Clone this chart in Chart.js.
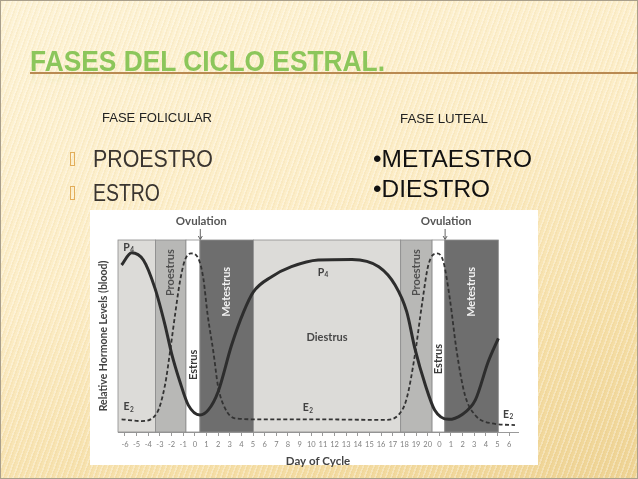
<!DOCTYPE html>
<html><head><meta charset="utf-8">
<script src="https://cdn.jsdelivr.net/npm/chart.js@4.4.1/dist/chart.umd.min.js"></script>
<style>
html,body{margin:0;padding:0;}
body{width:638px;height:479px;overflow:hidden;position:relative;
 background:
  repeating-linear-gradient(110deg, rgba(255,255,255,0.28) 0px, rgba(255,255,255,0.28) 1.5px, rgba(210,170,90,0.07) 1.5px, rgba(210,170,90,0.07) 3px, rgba(255,255,255,0) 3px, rgba(255,255,255,0) 5px),
  linear-gradient(160deg,#fdf3d6 0%,#fcedc7 45%,#f5dea6 78%,#eed394 100%);
 font-family:"Liberation Sans",Arial,sans-serif;}
.frame{position:absolute;left:0;top:0;width:636px;height:477px;border:1px solid #a99f8b;}
.t{position:absolute;white-space:nowrap;line-height:normal;transform-origin:0 0;}
#title{left:30px;top:45px;font-family:"Liberation Sans",Arial,sans-serif;font-weight:bold;font-size:29px;color:#8cc65b;}
#refl{left:30px;top:67px;font-family:"Liberation Sans",Arial,sans-serif;font-weight:bold;font-size:29px;color:#8cc65b;opacity:0.13;
 -webkit-mask-image:linear-gradient(to top, rgba(0,0,0,1) 0%, rgba(0,0,0,0) 55%);mask-image:linear-gradient(to top, rgba(0,0,0,1) 0%, rgba(0,0,0,0) 55%);}
#rule{position:absolute;left:30px;top:72px;width:608px;height:1.5px;background:#b98a52;}
.sub{font-family:"Liberation Sans",Arial,sans-serif;font-size:13.5px;color:#222;}
.big{font-family:"Liberation Sans",Arial,sans-serif;font-size:23.5px;}
.box{position:absolute;width:3px;height:12px;border:1px solid #e2ad5a;}
#img{position:absolute;left:90px;top:210px;width:448px;height:255px;background:#fff;}
#cv{position:absolute;left:90px;top:210px;}
</style></head>
<body>
<div class="frame"></div>
<div id="refl" class="t" data-w="355" style="transform-origin:0 50%;">FASES DEL CICLO ESTRAL.</div>
<div id="title" class="t" data-w="355">FASES DEL CICLO ESTRAL.</div>
<div id="rule"></div>
<div class="t sub" style="left:102px;top:110px;" data-w="110">FASE FOLICULAR</div>
<div class="t sub" style="left:400px;top:111px;" data-w="88">FASE LUTEAL</div>
<div class="box" style="left:70px;top:152px;"></div>
<div class="box" style="left:70px;top:186px;"></div>
<div class="t big" style="left:93px;top:146px;color:#3a3530;" data-w="120">PROESTRO</div>
<div class="t big" style="left:93px;top:180px;color:#3a3530;" data-w="67">ESTRO</div>
<div class="t big" style="left:373px;top:146px;color:#111;" data-w="159">•METAESTRO</div>
<div class="t big" style="left:373px;top:176px;color:#111;" data-w="117">•DIESTRO</div>
<div id="img"></div>
<canvas id="cv" width="448" height="260"></canvas>
<script>
// ---- data ----
const dayLabels = ['-6','-5','-4','-3','-2','-1','0','1','2','3','4','5','6','7','8','9','10','11','12','13','14','15','16','17','18','19','20','0','1','2','3','4','5','6'];
// positions are measured along the axis in tick-index units (index of dayLabels)
const p4Pos   = [-0.29,0.57,1.58,2.58,3.44,4.0,4.72,5.44,6.44,7.16,8.0,9.16,10.2,11.03,12.6,14.3,16.6,19.5,21.8,23.2,24.2,24.9,25.8,26.6,27.8,28.9,30.1,31.2,32.07];
const p4Level = [87,93.4,89.6,74.8,55.7,41,26.2,14,8.9,11.5,21,45.3,62.7,73,80.9,86.1,89.6,89.9,86.1,76.6,62.7,43.6,24.5,11.5,6.6,8.9,16.7,36.6,48.8];
const e2Pos   = [-0.29,1.43,2.72,3.44,3.87,4.3,4.72,5.15,5.67,6.3,6.73,7.1,7.59,8.0,8.6,9.45,11.5,16,22.3,23.5,24.2,24.9,25.5,26.06,26.8,27.35,27.9,28.5,29.2,30.07,31.5,33.5];
const e2Level = [6.6,5.7,9.7,24.5,41.8,61,78.3,89.6,93,90.4,80,61,41.8,23.6,12.3,7.1,6.6,6.6,6.3,8.9,17.5,40,66,87,93,88.7,69.6,41.8,19.3,8.9,4.5,3.6];
const phaseKind  = ['Diestrus','Proestrus','Estrus','Metestrus','Diestrus','Proestrus','Estrus','Metestrus'];
const phaseStart = [-0.6,2.63,5.24,6.44,11.03,23.68,26.38,27.47];
const phaseEnd   = [2.63,5.24,6.44,11.03,23.68,26.38,27.47,32.07];
const phaseLabelLevel = [null,83,35,73,49,83,38,73];
const ovulationPos = [6.47,27.5];
const hormoneText  = ['P','P','E','E','E'];
const hormoneSub   = ['4','4','2','2','2'];
const hormonePos   = [0.3,17.0,0.3,15.7,32.9];
const hormoneLevel = [96,83,13,12.5,9];

// ---- styles ----
const phaseStyle = {
  Diestrus:{fill:'#dcdbd8',text:'#474747',vertical:false},
  Proestrus:{fill:'#b8b8b6',text:'#505050',vertical:true},
  Estrus:{fill:'#ffffff',text:'#3a3a3a',vertical:true},
  Metestrus:{fill:'#6e6e6e',text:'#f2f2f2',vertical:true}
};
const FONT = 'Lato, "Open Sans", sans-serif';

const phasePlugin = {
  id:'phases',
  beforeDatasetsDraw(chart){
    const {ctx, scales:{x,y}} = chart;
    ctx.save();
    const yTop = y.getPixelForValue(100), yBot = y.getPixelForValue(0);
    phaseStart.forEach((s,i)=>{
      const x0 = x.getPixelForValue(s), x1 = x.getPixelForValue(phaseEnd[i]);
      ctx.fillStyle = phaseStyle[phaseKind[i]].fill;
      ctx.fillRect(x0,yTop,x1-x0,yBot-yTop);
      ctx.strokeStyle = '#8c8c8c'; ctx.lineWidth = 0.8;
      ctx.strokeRect(x0,yTop,x1-x0,yBot-yTop);
    });
    phaseStart.forEach((s,i)=>{
      if (phaseLabelLevel[i]===null) return;
      const st = phaseStyle[phaseKind[i]];
      const cx = x.getPixelForValue((s+phaseEnd[i])/2), cy = y.getPixelForValue(phaseLabelLevel[i]);
      ctx.save();
      ctx.translate(cx,cy);
      if (st.vertical) ctx.rotate(-Math.PI/2);
      ctx.fillStyle = st.text;
      ctx.font = 'bold 11px '+FONT;
      ctx.textAlign='center'; ctx.textBaseline='middle';
      ctx.fillText(phaseKind[i],0,0);
      ctx.restore();
    });
    ctx.restore();
  },
  afterDatasetsDraw(chart){
    const {ctx, scales:{x,y}} = chart;
    ctx.save();
    ctx.fillStyle='#404040';
    hormoneText.forEach((t,i)=>{
      const cx = x.getPixelForValue(hormonePos[i]), cy = y.getPixelForValue(hormoneLevel[i]);
      ctx.font='bold 10.5px '+FONT;
      const w1 = ctx.measureText(t).width;
      ctx.font='bold 6.5px '+FONT;
      const w2 = ctx.measureText(hormoneSub[i]).width;
      const x0 = cx-(w1+w2)/2;
      ctx.textBaseline='middle'; ctx.textAlign='left';
      ctx.font='bold 10.5px '+FONT; ctx.fillText(t,x0,cy);
      ctx.font='bold 6.5px '+FONT; ctx.fillText(hormoneSub[i],x0+w1+0.3,cy+2.5);
    });
    const yTop = y.getPixelForValue(100);
    ovulationPos.forEach(p=>{
      const px = x.getPixelForValue(p);
      ctx.fillStyle='#555'; ctx.strokeStyle='#555'; ctx.lineWidth=0.9;
      ctx.font='bold 11.5px '+FONT; ctx.textAlign='center'; ctx.textBaseline='middle';
      ctx.fillText('Ovulation',px+1,yTop-18.5);
      ctx.beginPath(); ctx.moveTo(px,yTop-11); ctx.lineTo(px,yTop-1); ctx.stroke();
      ctx.beginPath(); ctx.moveTo(px-2,yTop-4); ctx.lineTo(px,yTop-0.5); ctx.lineTo(px+2,yTop-4); ctx.stroke();
    });
    ctx.restore();
  }
};

function pts(xs,ys){return xs.map((v,i)=>({x:v,y:ys[i]}));}

new Chart(document.getElementById('cv'),{
  type:'line',
  data:{datasets:[
    {label:'P4',data:pts(p4Pos,p4Level),borderColor:'#2d2d2d',borderWidth:3,pointRadius:0,cubicInterpolationMode:'monotone',fill:false},
    {label:'E2',data:pts(e2Pos,e2Level),borderColor:'#333',borderWidth:1.8,borderDash:[4,2.5],pointRadius:0,cubicInterpolationMode:'monotone',fill:false}
  ]},
  options:{
    responsive:false,animation:false,
    layout:{padding:{top:30,right:20,left:0,bottom:0}},
    plugins:{legend:{display:false},tooltip:{enabled:false}},
    scales:{
      x:{type:'linear',min:-0.6,max:33.76,
        afterFit(s){s.height=38;},
        ticks:{stepSize:1,includeBounds:false,autoSkip:false,maxRotation:0,padding:4,color:'#808080',
          font:{family:FONT,size:7.5},callback:(v)=>dayLabels[v]!==undefined?dayLabels[v]:''},
        grid:{drawOnChartArea:false,drawTicks:true,tickLength:4,color:'#9a9a9a'},
        border:{color:'#9a9a9a',width:1},
        title:{display:true,text:'Day of Cycle',color:'#444',font:{family:FONT,weight:'bold',size:11.5},padding:{top:0,bottom:2}}
      },
      y:{min:0,max:100,
        afterFit(s){s.width=28;},
        ticks:{display:false},grid:{display:false},border:{display:false},
        title:{display:true,text:'Relative Hormone Levels (blood)',color:'#444',font:{family:FONT,weight:'bold',size:10.5},padding:{top:7,bottom:0}}
      }
    }
  },
  plugins:[phasePlugin]
});

function fit(){
  document.querySelectorAll('[data-w]').forEach(el=>{
    el.style.transform='';
    const w = el.getBoundingClientRect().width;
    const sx = el.dataset.w / w;
    el.style.transform = el.id==='refl' ? `scale(${sx},-1)` : `scaleX(${sx})`;
  });
}
fit();
if (document.fonts && document.fonts.ready) document.fonts.ready.then(fit);
</script>
</body></html>
